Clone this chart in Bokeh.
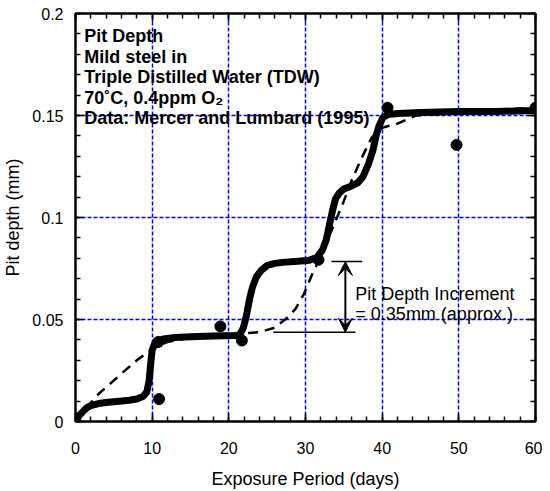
from bokeh.embed import file_html
from bokeh.models import Arrow, FixedTicker, Label, LinearAxis, VeeHead
from bokeh.plotting import figure
from bokeh.resources import INLINE

FONT = "Liberation Sans"

# thick solid curve: stepwise pit growth
step_days = [0, 0.5, 1, 1.5, 2, 3, 4, 5, 6, 7, 8, 8.8, 9.3, 9.6, 9.8, 10.0, 10.3,
             10.8, 11.5, 13, 15, 18, 21, 21.5, 21.9, 22.3, 22.7, 23.1, 23.6, 24.2,
             25, 26, 27, 29, 30.5, 31.5, 32.2, 32.7, 33.1, 33.5, 33.9, 34.4, 35,
             36, 36.8, 37.5, 38.2, 38.8, 39.2, 39.6, 40.1, 40.8, 42, 45, 50, 55, 60]
step_depth = [0, 0.003, 0.005, 0.0068, 0.0078, 0.0088, 0.0093, 0.0097, 0.0100,
              0.0104, 0.0110, 0.0122, 0.0145, 0.020, 0.028, 0.035, 0.038, 0.0395,
              0.0405, 0.0412, 0.0416, 0.0419, 0.0422, 0.043, 0.046, 0.052, 0.060,
              0.066, 0.071, 0.074, 0.0765, 0.0775, 0.078, 0.0785, 0.079, 0.0805,
              0.084, 0.089, 0.096, 0.103, 0.109, 0.112, 0.114, 0.1155, 0.117, 0.120,
              0.126, 0.133, 0.140, 0.145, 0.149, 0.1505, 0.151, 0.1515, 0.152,
              0.152, 0.1525]

# dashed curve: smooth fit
smooth_days = [0, 1, 2, 3, 4, 6, 8, 10, 12, 15, 18, 21, 24, 26, 27.5, 28.7, 29.8,
               30.9, 32, 33, 34, 35, 36, 37.3, 38.6, 40, 42, 44.4, 47, 50, 55, 60]
smooth_depth = [0, 0.0048, 0.0092, 0.0135, 0.0168, 0.0235, 0.030, 0.0355, 0.039,
                0.0412, 0.0422, 0.0430, 0.0438, 0.046, 0.0505, 0.0552, 0.0626,
                0.0724, 0.081, 0.090, 0.099, 0.108, 0.118, 0.129, 0.139, 0.144,
                0.146, 0.150, 0.1505, 0.1515, 0.1525, 0.154]

# measured pit depths
obs_days = [0, 10.8, 10.9, 18.9, 21.7, 31.7, 40.7, 49.7, 60]
obs_depth = [0, 0.039, 0.011, 0.0466, 0.0397, 0.0793, 0.1538, 0.1356, 0.1538]

x_ticks = [0, 10, 20, 30, 40, 50, 60]
y_ticks = [0, 0.05, 0.1, 0.15, 0.2]
y_tick_labels = ["0", "0.05", "0.1", "0.15", "0.2"]

info_lines = ["Pit Depth", "Mild steel in", "Triple Distilled Water (TDW)",
              "70˚C, 0.4ppm O₂", "Data: Mercer and Lumbard (1995)"]
info_y = [0.1892, 0.1789, 0.1689, 0.1588, 0.1488]

incr_lines = ["Pit Depth Increment", "= 0.35mm (approx.)"]
incr_y = [0.0626, 0.0528]
incr_top, incr_bottom = 0.0784, 0.0438

x_minor = [i * 2 for i in range(31)]
y_minor = [i / 100 for i in range(21)]

p = figure(width=542, height=491, x_range=(0, 60), y_range=(0, 0.2),
           output_backend="svg", toolbar_location=None,
           min_border_left=73, min_border_right=7, min_border_top=13,
           min_border_bottom=70)
p.outline_line_color = "black"
p.outline_line_width = 2

bottom = p.below[0]
left = p.left[0]

xt = FixedTicker(ticks=x_ticks, minor_ticks=x_minor)
yt = FixedTicker(ticks=y_ticks, minor_ticks=y_minor)
bottom.ticker = xt
left.ticker = yt
left.major_label_overrides = dict(zip(y_ticks, y_tick_labels))

top = LinearAxis(ticker=xt, major_label_standoff=0,
                 major_label_overrides={t: "" for t in x_ticks})
right = LinearAxis(ticker=yt, major_label_standoff=0,
                   major_label_overrides={t: "" for t in y_ticks})
p.add_layout(top, "above")
p.add_layout(right, "right")

for ax in (bottom, left, top, right):
    ax.axis_line_width = 2
    ax.axis_line_color = "black"
    ax.major_tick_in = 8
    ax.major_tick_out = 0
    ax.minor_tick_in = 5
    ax.minor_tick_out = 0
    ax.major_tick_line_width = 1.5
    ax.minor_tick_line_width = 1.5
    ax.major_label_text_font = FONT
    ax.major_label_text_font_size = "16px"
    ax.major_label_text_color = "black"
    ax.axis_label_text_font = FONT
    ax.axis_label_text_font_style = "normal"
    ax.axis_label_text_font_size = "18px"
    ax.axis_label_text_color = "black"

bottom.major_label_standoff = 20
bottom.major_label_text_line_height = 1.0
bottom.axis_label = "Exposure Period (days)"
bottom.axis_label_standoff = 12
bottom.axis_label_text_line_height = 1.0
left.major_label_standoff = 12
left.axis_label = "Pit depth (mm)"
left.axis_label_standoff = 6

p.xgrid.ticker = FixedTicker(ticks=x_ticks[1:-1])
p.ygrid.ticker = FixedTicker(ticks=y_ticks[1:-1])
p.grid.grid_line_color = "#0000ff"
p.grid.grid_line_dash = "4 2"
p.grid.grid_line_width = 1.5

p.line(smooth_days, smooth_depth, line_color="black", line_width=2.5,
       line_dash="10 7")
p.line(step_days, step_depth, line_color="black", line_width=7,
       line_join="round", line_cap="round")
p.scatter(obs_days, obs_depth, size=11, fill_color="black", line_color="black")

for txt, yy in zip(info_lines, info_y):
    p.add_layout(Label(x=1.15, y=yy, text=txt, text_font=FONT,
                       text_font_size="18px", text_font_style="bold",
                       text_color="black", text_baseline="alphabetic"))

for txt, yy in zip(incr_lines, incr_y):
    p.add_layout(Label(x=36.5, y=yy, text=txt, text_font=FONT,
                       text_font_size="18px", text_color="black",
                       text_baseline="alphabetic"))

p.segment(x0=[33.4, 25.8], y0=[incr_top, incr_bottom],
          x1=[37.4, 36.5], y1=[incr_top, incr_bottom],
          line_color="black", line_width=1.5)
p.add_layout(Arrow(start=VeeHead(size=14, fill_color="black", line_color="black"),
                   end=VeeHead(size=14, fill_color="black", line_color="black"),
                   x_start=35.2, y_start=incr_bottom, x_end=35.2, y_end=incr_top,
                   line_width=2, line_color="black"))

open("out.html", "w").write(file_html(p, INLINE))
